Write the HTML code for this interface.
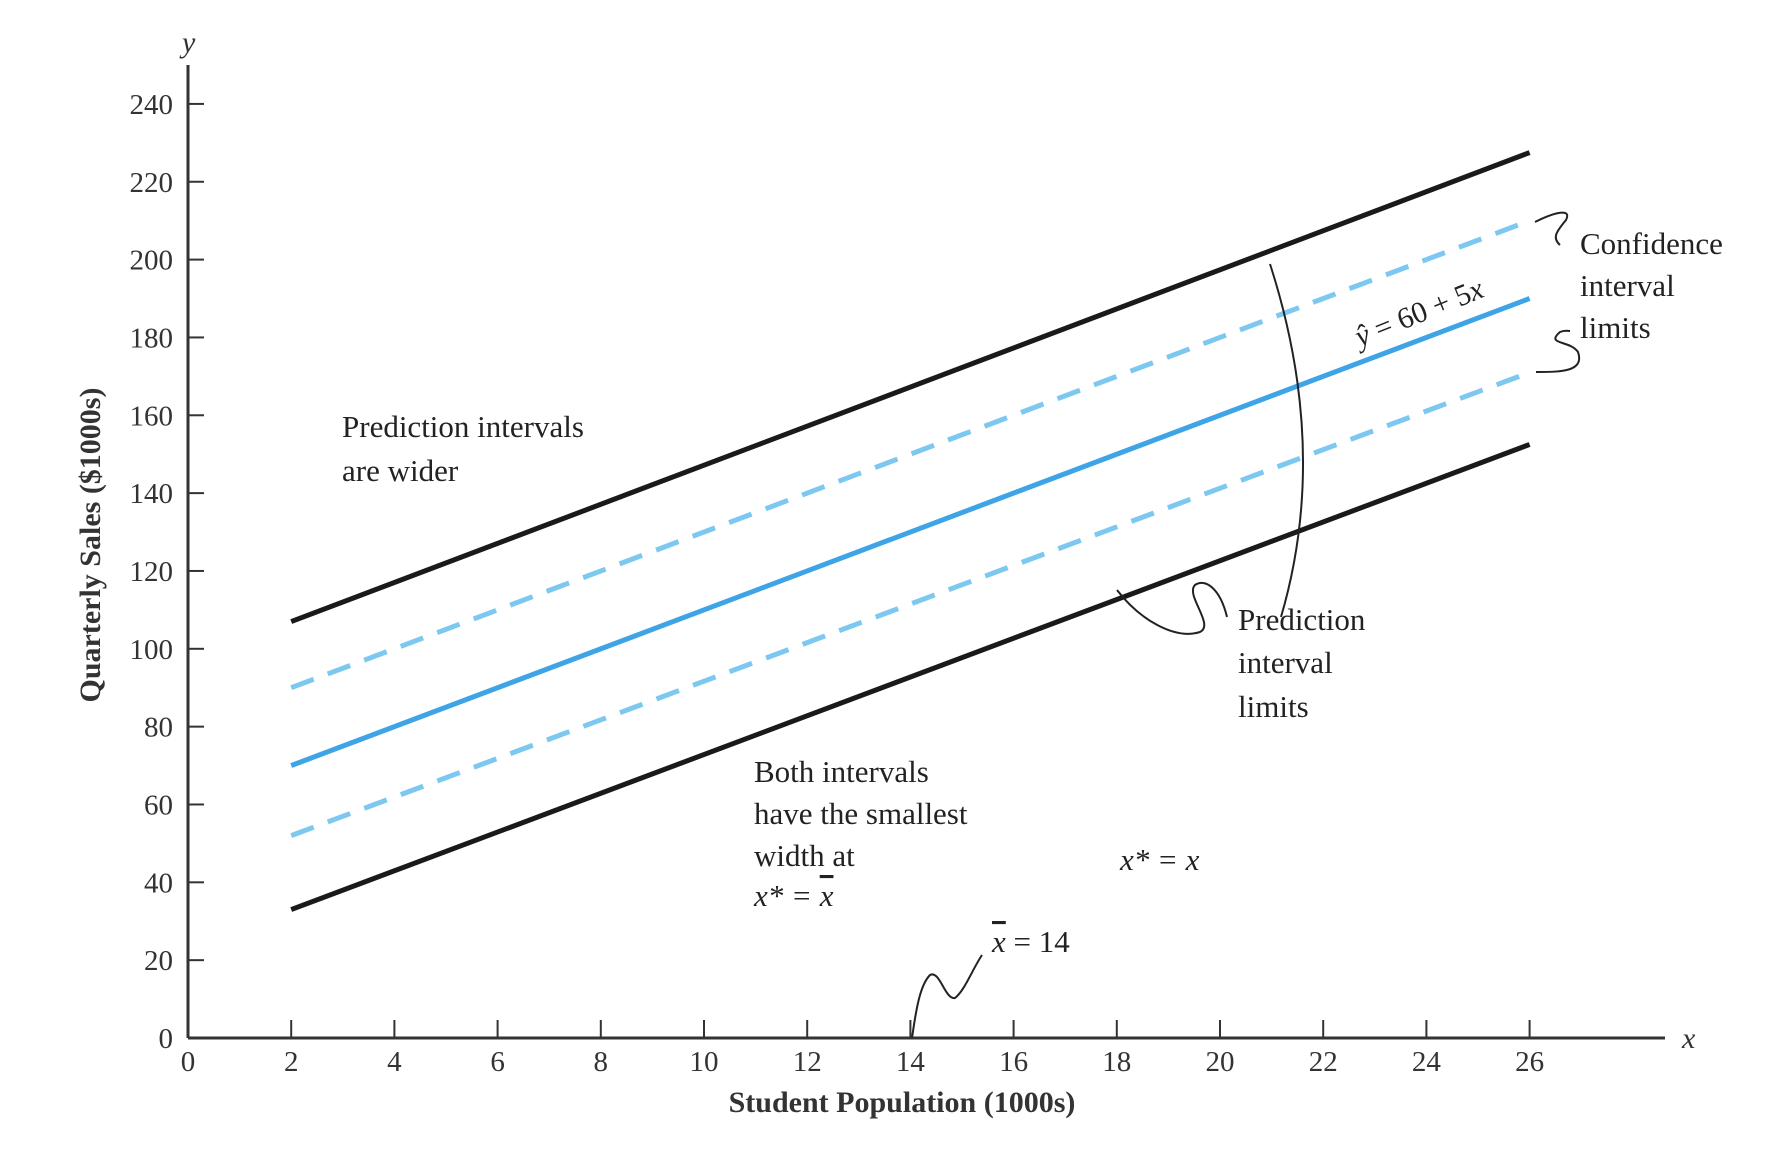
<!DOCTYPE html>
<html><head><meta charset="utf-8"><style>
html,body{margin:0;padding:0;background:#fff;}
svg{display:block;font-family:"Liberation Serif",serif;}
</style></head><body>
<svg id="chart" width="1776" height="1152" viewBox="0 0 1776 1152" xmlns="http://www.w3.org/2000/svg">
<g id="axes"></g>
<g id="series"></g>
<g id="annot" fill="#222" font-size="31">
  <text x="342" y="437">Prediction intervals</text>
  <text x="342" y="481">are wider</text>
  <text x="1580" y="254">Confidence</text>
  <text x="1580" y="296">interval</text>
  <text x="1580" y="338">limits</text>
  <text x="1238" y="630">Prediction</text>
  <text x="1238" y="673">interval</text>
  <text x="1238" y="717">limits</text>
  <text x="754" y="782">Both intervals</text>
  <text x="754" y="824">have the smallest</text>
  <text x="754" y="866">width at</text>
  <text x="754" y="906" font-style="italic">x* = <tspan text-decoration="overline">x</tspan></text>
  <text x="1120" y="870" font-style="italic">x* = x</text>
  <text x="992" y="952"><tspan font-style="italic" text-decoration="overline">x</tspan> = 14</text>
  <text x="1360" y="347" font-size="30" transform="rotate(-22 1360 347)"><tspan font-style="italic">ŷ</tspan> = 60 + 5<tspan font-style="italic">x</tspan></text>
  <path d="M1270 264 Q1330 450 1281 617" fill="none" stroke="#222" stroke-width="2"/>
  <path d="M1117 590 C1140 620 1175 640 1200 632 C1215 625 1185 595 1195 585 C1205 578 1220 588 1227 617" fill="none" stroke="#222" stroke-width="2"/>
  <path d="M1535 222 C1555 212 1572 208 1566 220 C1556 232 1552 238 1560 245" fill="none" stroke="#222" stroke-width="2"/>
  <path d="M1536 372 C1560 372 1585 372 1578 352 C1570 340 1545 345 1560 332 C1565 330 1568 331 1570 331" fill="none" stroke="#222" stroke-width="2"/>
  <path d="M912 1038 C916 1010 920 985 930 975 C940 970 945 1000 955 998 C965 990 972 970 982 955" fill="none" stroke="#222" stroke-width="2"/>
</g>
</svg>
<script>
const xTicks = [0,2,4,6,8,10,12,14,16,18,20,22,24,26];
const yTicks = [0,20,40,60,80,100,120,140,160,180,200,220,240];
const lineX = [2, 26];
const predUpper = [107, 227.5];
const confUpper = [90, 210];
const fitLine = [70, 190];
const confLower = [52, 171];
const predLower = [33, 152.5];

const X0=188, XS=51.6, Y0=1038, YS=3.892;
const xs = v => X0 + v*XS;
const ys = v => Y0 - v*YS;
const NS='http://www.w3.org/2000/svg';
function mk(tag, attrs, parent){const e=document.createElementNS(NS,tag);for(const k in attrs)e.setAttribute(k,attrs[k]);parent.appendChild(e);return e;}
const axes=document.getElementById('axes');
let e;
e=mk('line',{x1:xs(0),y1:Y0,x2:1665,y2:Y0,stroke:'#333','stroke-width':3},axes);


e=mk('line',{x1:X0,y1:Y0,x2:X0,y2:65,stroke:'#333','stroke-width':3},axes);


xTicks.forEach(t=>{
  if(t>0){
    const l=mk('line',{x1:xs(t),y1:Y0,x2:xs(t),y2:Y0-18,stroke:'#333','stroke-width':2},axes);
    
    
  }
  const tx=mk('text',{x:xs(t),y:Y0+33,'text-anchor':'middle','font-size':29,fill:'#333'},axes);
  tx.textContent=t;
  
  
});
yTicks.forEach(t=>{
  if(t>0){
    const l=mk('line',{x1:X0,y1:ys(t),x2:X0+16,y2:ys(t),stroke:'#333','stroke-width':2},axes);
    
    
  }
  const tx=mk('text',{x:173,y:ys(t)+10,'text-anchor':'end','font-size':29,fill:'#333'},axes);
  tx.textContent=t;
  
  
});
e=mk('text',{x:1682,y:1048,'font-size':30,'font-style':'italic',fill:'#333'},axes);
e.textContent='x';


e=mk('text',{x:182,y:52,'font-size':30,'font-style':'italic',fill:'#333'},axes);
e.textContent='y';


e=mk('text',{x:902,y:1112,'text-anchor':'middle','font-size':30,'font-weight':'bold',fill:'#333'},axes);
e.textContent='Student Population (1000s)';


e=mk('text',{x:100,y:545,'text-anchor':'middle','font-size':30,'font-weight':'bold',fill:'#333',transform:'rotate(-90 100 545)'},axes);
e.textContent='Quarterly Sales ($1000s)';



const ser=document.getElementById('series');
function drawLine(vals,name,color,w,dash){
  const l=mk('line',{x1:xs(lineX[0]),y1:ys(vals[0]),x2:xs(lineX[1]),y2:ys(vals[1]),stroke:color,'stroke-width':w},ser);
  if(dash)l.setAttribute('stroke-dasharray',dash);
  
  
}
drawLine(predUpper,'prediction-upper-limit','#1a1a1a',5);
drawLine(predLower,'prediction-lower-limit','#1a1a1a',5);
drawLine(confUpper,'confidence-upper-limit','#7cc8f0',5,'24 15');
drawLine(confLower,'confidence-lower-limit','#7cc8f0',5,'24 15');
drawLine(fitLine,'regression-line','#3ea4e6',5);
</script>
</body></html>
